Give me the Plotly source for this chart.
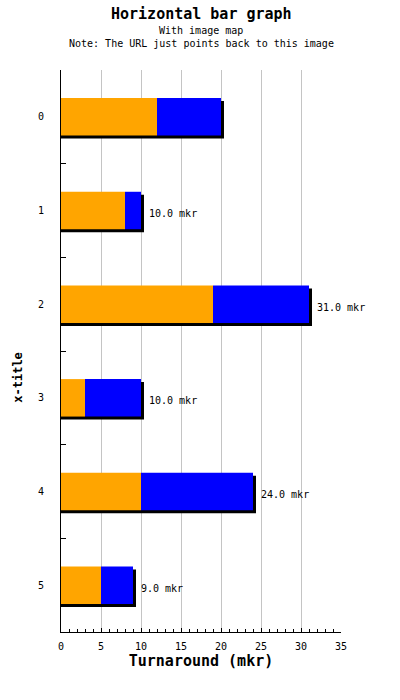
import plotly.graph_objects as go

categories = ["0", "1", "2", "3", "4", "5"]
orange_values = [12, 8, 19, 3, 10, 5]
blue_values = [8, 2, 12, 7, 14, 4]
bar_labels = ["", "10.0 mkr", "31.0 mkr", "10.0 mkr", "24.0 mkr", "9.0 mkr"]
x_ticks = [0, 5, 10, 15, 20, 25, 30, 35]

totals = [o + b for o, b in zip(orange_values, blue_values)]

FONT = "DejaVu Sans Mono"
BAR_W = 0.4
SHADOW_X = 0.375        # ~3 px in x units
SHADOW_Y = 3 / 93.5     # ~3 px in category units

fig = go.Figure()

# shadow
fig.add_trace(go.Bar(
    y=categories, x=[t + SHADOW_X for t in totals], base=0, orientation="h",
    width=BAR_W, offset=-BAR_W / 2 + SHADOW_Y,
    marker=dict(color="black", line=dict(width=0)), hoverinfo="skip", showlegend=False))
# orange part
fig.add_trace(go.Bar(
    y=categories, x=orange_values, base=0, orientation="h",
    width=BAR_W, offset=-BAR_W / 2,
    marker=dict(color="#FFA500", line=dict(width=0)), showlegend=False))
# blue part
fig.add_trace(go.Bar(
    y=categories, x=blue_values, base=orange_values, orientation="h",
    width=BAR_W, offset=-BAR_W / 2,
    marker=dict(color="#0000FF", line=dict(width=0)), showlegend=False))

for cat, tot, lab in zip(categories, totals, bar_labels):
    if lab:
        fig.add_annotation(x=tot, y=cat, xref="x", yref="y", text=lab, showarrow=False,
                           xanchor="left", yanchor="middle", xshift=6, yshift=-3,
                           font=dict(family=FONT, size=10, color="black"))

fig.add_annotation(x=0.5, y=1.0996, xref="paper", yref="paper", text="<b>Horizontal bar graph</b>",
                   showarrow=False, xanchor="center", yanchor="middle",
                   font=dict(family=FONT, size=15, color="black"))
fig.add_annotation(x=0.5, y=1.071, xref="paper", yref="paper", text="With image map",
                   showarrow=False, xanchor="center", yanchor="middle",
                   font=dict(family=FONT, size=10, color="black"))
fig.add_annotation(x=0.5, y=1.048, xref="paper", yref="paper",
                   text="Note: The URL just points back to this image",
                   showarrow=False, xanchor="center", yanchor="middle",
                   font=dict(family=FONT, size=10, color="black"))
fig.add_annotation(x=-0.154, y=0.454, xref="paper", yref="paper", text="<b>x-title</b>",
                   showarrow=False, textangle=-90, xanchor="center", yanchor="middle",
                   font=dict(family=FONT, size=12, color="black"))

fig.update_layout(
    width=400, height=700,
    margin=dict(l=61, r=59, t=70, b=68),
    paper_bgcolor="white", plot_bgcolor="white",
    barmode="overlay",
    font=dict(family=FONT, size=10, color="black"),
    xaxis=dict(range=[0, 35], tickvals=x_ticks, ticktext=[str(v) for v in x_ticks],
               showgrid=True, gridcolor="#c4c4c4", gridwidth=1, zeroline=False,
               showline=True, linecolor="black", linewidth=1,
               ticks="inside", ticklen=4, tickcolor="black",
               minor=dict(dtick=1, ticks="inside", ticklen=3, tickcolor="black", showgrid=False),
               ticklabelstandoff=5,
               tickfont=dict(family=FONT, size=10),
               title=dict(text="<b>Turnaround (mkr)</b>", standoff=4,
                          font=dict(family=FONT, size=15))),
    yaxis=dict(type="category", categoryorder="array", categoryarray=categories,
               range=[5.5, -0.5], showgrid=False, zeroline=False,
               showline=True, linecolor="black", linewidth=1,
               ticks="inside", tickson="boundaries", ticklen=5, tickcolor="black",
               ticklabelstandoff=14, tickfont=dict(family=FONT, size=10)),
)

fig.write_html("out.html")
